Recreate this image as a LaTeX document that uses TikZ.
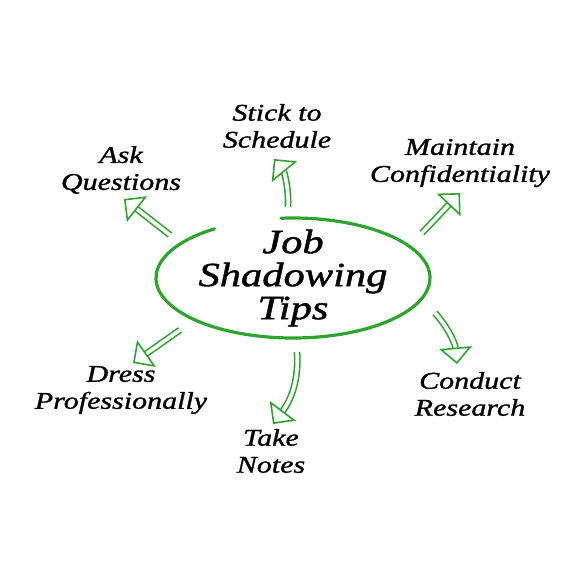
\documentclass[tikz,border=0pt]{standalone}
\usepackage{fontspec}
\newfontfamily\handfont[FakeStretch=1.25, FakeBold=1.2]{Liberation Serif}
\usetikzlibrary{arrows.meta}
\definecolor{tipgreen}{RGB}{44,165,44}

\begin{document}
\begin{tikzpicture}[x=1pt, y=-1pt,
    lbl/.style={align=center, inner sep=0pt, font=\handfont\itshape\fontsize{24}{27}\selectfont},
    title/.style={align=center, inner sep=0pt, font=\handfont\itshape\fontsize{34}{33}\selectfont},
    arr/.style={draw=tipgreen, line width=1.6pt, double=white, double distance=3.6pt, -{Triangle[open, fill=white, scale=1.2, scale length=0.7]}},
    ring/.style={draw=tipgreen, line width=3.2pt, line cap=round}
]
\useasboundingbox (0,0) rectangle (576,576);

\node[title] (tips) at (293,278) {Job\\Shadowing\\Tips};
\draw[ring] (tips.center) ++(-125:137 and 60) arc[start angle=-125, end angle=-455, x radius=137, y radius=60];

\node[lbl] (ask) at (121,170) {Ask\\Questions};
\node[lbl] (stick) at (277,126) {Stick to\\Schedule};
\node[lbl] (maintain) at (460,163) {Maintain\\Confidentiality};
\node[lbl] (dress) at (121,390) {Dress\\Professionally};
\node[lbl] (take) at (271,451) {Take\\Notes};
\node[lbl] (conduct) at (470,394) {Conduct\\Research};

% arrow ends
\coordinate (askT) at (170,235);
\coordinate (askH) at (124,199);
\coordinate (stickT) at (288,207);
\coordinate (stickH) at (274,159);
\coordinate (maintainT) at (422,233);
\coordinate (maintainH) at (460,193);
\coordinate (dressT) at (180,330);
\coordinate (dressH) at (133,363);
\coordinate (takeT) at (297,352);
\coordinate (takeH) at (273,424);
\coordinate (conductT) at (435,313);
\coordinate (conductH) at (457,364);

\draw[arr] (askT) -- (askH);
\draw[arr] (stickT) .. controls (289,185) and (283,170) .. (stickH);
\draw[arr] (maintainT) -- (maintainH);
\draw[arr] (dressT) -- (dressH);
\draw[arr] (takeT) .. controls (299,380) and (291,400) .. (takeH);
\draw[arr] (conductT) .. controls (446,325) and (455,342) .. (conductH);
\end{tikzpicture}
\end{document}
